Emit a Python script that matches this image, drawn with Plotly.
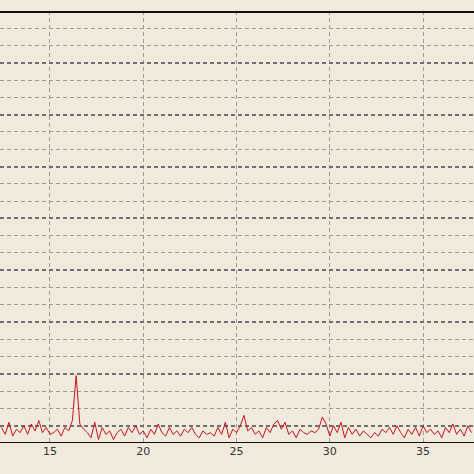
import numpy as np
import plotly.graph_objects as go

# signal values, x from 12.4 in steps of 0.2
y_vals = [0.9, 0.5, 1.2, 0.4, 0.8, 0.6, 1.0, 0.5, 1.1, 0.7, 1.3, 0.6, 0.9, 0.5,
          0.6, 0.8, 0.4, 0.9, 0.7, 1.3, 3.9, 1.1, 0.8, 0.6, 0.3, 1.2, 0.2, 0.9,
          0.5, 0.7, 0.2, 0.6, 0.8, 0.4, 0.9, 0.6, 1.0, 0.5, 0.7, 0.3, 0.8, 0.5,
          1.1, 0.6, 0.4, 0.9, 0.5, 0.7, 0.4, 0.8, 0.6, 0.9, 0.5, 0.3, 0.7, 0.5,
          0.6, 0.4, 0.9, 0.5, 1.2, 0.3, 0.8, 0.6, 1.0, 1.6, 0.7, 0.9, 0.5, 0.7,
          0.3, 0.9, 0.6, 1.1, 1.3, 0.8, 1.2, 0.5, 0.7, 0.3, 0.8, 0.6, 0.5, 0.7,
          0.6, 0.8, 1.5, 1.1, 0.4, 1.0, 0.6, 1.2, 0.3, 0.9, 0.5, 0.8, 0.4, 0.7,
          0.5, 0.3, 0.6, 0.4, 0.8, 0.6, 0.9, 0.5, 1.0, 0.6, 0.3, 0.8, 0.5, 0.9,
          0.4, 1.0, 0.6, 0.8, 0.5, 0.7, 0.3, 0.9, 0.6, 1.1, 0.5, 0.8, 0.4, 1.0,
          0.6]
x_vals = np.round(12.4 + 0.2 * np.arange(len(y_vals)), 2)
x_ticks = [15, 20, 25, 30, 35]

fig = go.Figure()
fig.add_trace(go.Scatter(x=x_vals, y=y_vals, mode='lines',
                         line=dict(color='#c8141e', width=1)))

fig.update_layout(
    width=474, height=474,
    margin=dict(l=0, r=0, t=11, b=31, pad=0),
    paper_bgcolor='#efeadb', plot_bgcolor='#efeadb',
    showlegend=False,
    xaxis=dict(range=[12.32, 37.73], tickvals=x_ticks, showgrid=True,
               gridcolor='#9a9a9a', griddash='4px,3px', gridwidth=1,
               zeroline=False, showline=False, automargin=False,
               tickfont=dict(family='DejaVu Sans', size=11, color='#333')),
    yaxis=dict(range=[0, 25], tick0=1, dtick=3, showticklabels=False,
               showgrid=True, gridcolor='#707070', griddash='4px,3px', gridwidth=1.6,
               zeroline=False, showline=False, automargin=False,
               minor=dict(dtick=1, showgrid=True, gridcolor='#9a9a9a',
                          griddash='4px,3px', gridwidth=1)),
)
fig.add_hline(y=0, line=dict(color='#111', width=2))
fig.add_hline(y=25, line=dict(color='#111', width=4))

fig.write_html("out.html", config={'displayModeBar': False},
               post_script="document.body.style.margin='0';")
